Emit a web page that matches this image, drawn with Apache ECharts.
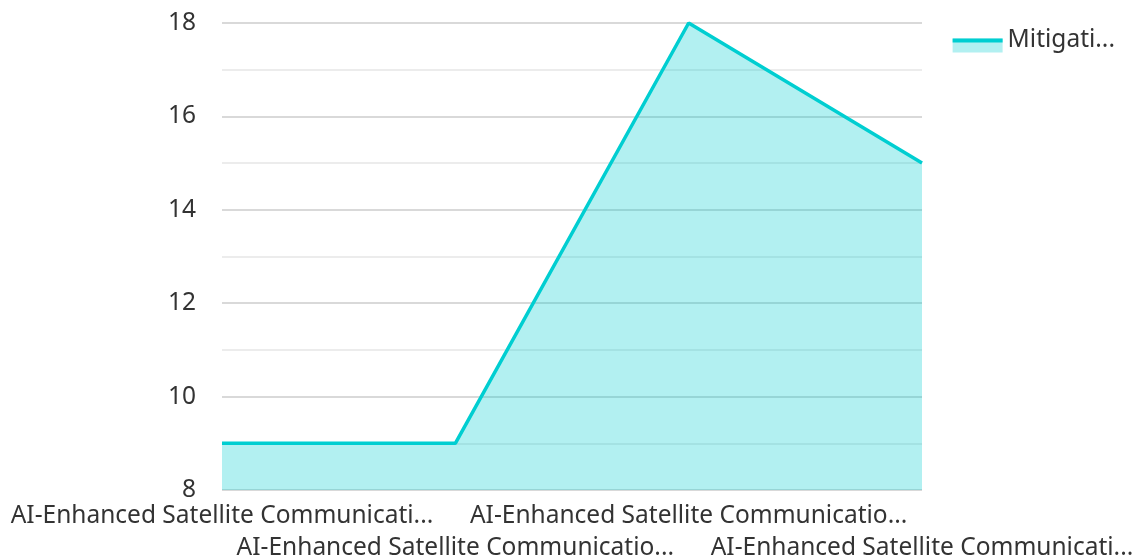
<!DOCTYPE html>
<html>
<head>
<meta charset="utf-8">
<script src="https://cdn.jsdelivr.net/npm/echarts@6/dist/echarts.min.js"></script>
<style>
  html, body { margin: 0; padding: 0; background: #fff; }
  #chart { width: 1140px; height: 558px; }
</style>
</head>
<body>
<div id="chart"></div>
<script>
// categories and values
var categories = [
  'AI-Enhanced Satellite Communications Security',
  'AI-Enhanced Satellite Communications Networks',
  'AI-Enhanced Satellite Communications Resilience',
  'AI-Enhanced Satellite Communications Operations'
]
// labels as shown under the axis (already cut short)
var tickLabels = [
  'AI-Enhanced Satellite Communicati...',
  'AI-Enhanced Satellite Communicatio...',
  'AI-Enhanced Satellite Communicatio...',
  'AI-Enhanced Satellite Communicati...'
]
var seriesName = 'Mitigation Effectiveness'
var values = [9, 9, 18, 15]
var yMin = 8
var yMax = 18
var yStep = 2

var lineColor = '#00CED1'
var areaColor = '#b2f0f1'
var fontSize = 24.5

var chart = echarts.init(document.getElementById('chart'))
chart.setOption({
  animation: false,
  textStyle: { fontFamily: 'Noto Sans' },
  grid: {
    left: 222,
    right: 218,
    top: 23,
    bottom: 68,
    outerBoundsMode: 'none'
  },
  legend: [
    // light area swatch behind the line swatch
    {
      data: [seriesName],
      right: 20,
      top: 28,
      z: 3,
      icon: 'rect',
      itemWidth: 50,
      itemHeight: 14,
      itemGap: 10,
      selectedMode: false,
      itemStyle: { color: areaColor },
      textStyle: {
        fontSize: fontSize,
        color: 'rgba(0,0,0,0)',
        width: 112,
        overflow: 'truncate'
      }
    },
    {
      data: [seriesName],
      right: 20,
      top: 23,
      z: 4,
      icon: 'rect',
      itemWidth: 50,
      itemHeight: 4,
      itemGap: 10,
      itemStyle: { color: lineColor },
      textStyle: {
        fontSize: fontSize,
        color: '#333',
        width: 112,
        overflow: 'truncate'
      }
    }
  ],
  xAxis: {
    type: 'category',
    data: categories,
    boundaryGap: false,
    axisLine: { show: false },
    axisTick: { show: false },
    axisLabel: {
      interval: 0,
      hideOverlap: false,
      fontSize: fontSize,
      color: '#333',
      margin: 10,
      lineHeight: 32,
      formatter: function (val, idx) {
        // every other label goes on a second row
        return idx % 2 ? '\n' + tickLabels[idx] : tickLabels[idx]
      }
    }
  },
  yAxis: {
    type: 'value',
    min: yMin,
    max: yMax,
    interval: yStep,
    axisLine: { show: false },
    axisTick: { show: false },
    axisLabel: {
      fontSize: fontSize,
      color: '#333',
      margin: 26
    },
    splitLine: {
      lineStyle: { color: '#cccccc', width: 1.5 }
    },
    minorTick: { show: false, splitNumber: 2 },
    minorSplitLine: {
      show: true,
      lineStyle: { color: '#e6e6e6', width: 1.5 }
    }
  },
  series: [{
    name: seriesName,
    type: 'line',
    data: values,
    symbol: 'none',
    lineStyle: { color: lineColor, width: 3.5 },
    itemStyle: { color: lineColor },
    areaStyle: { color: lineColor, opacity: 0.3 }
  }]
})
</script>
</body>
</html>
